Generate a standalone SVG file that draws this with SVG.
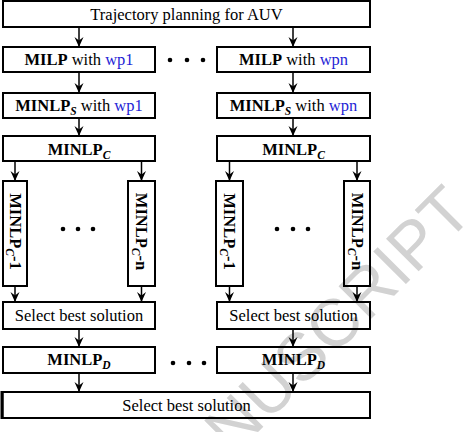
<svg xmlns="http://www.w3.org/2000/svg" width="474" height="432" viewBox="0 0 474 432">
<style>
.box{fill:none;stroke:#000;stroke-width:2}
.t{font-family:"Liberation Serif","Times New Roman",serif;font-size:16.5px;fill:#000;text-anchor:middle}
.b{font-weight:bold}
.sub{font-weight:bold;font-style:italic;font-size:11.5px}
.blue{fill:#1f1fd6}
.conn line{stroke:#000;stroke-width:1.5;marker-end:url(#ah)}
.dot{fill:#000}
.wm{font-family:"Liberation Sans",Arial,sans-serif;font-size:67px;fill:#d2d2d2}
</style>
<defs>
<marker id="ah" markerUnits="userSpaceOnUse" markerWidth="12" markerHeight="12" viewBox="-11 -6 12 12" refX="0" refY="0" orient="auto">
<path d="M0,0 L-10,-4.5 L-6.5,0 L-10,4.5 Z" fill="#000"/>
</marker>
</defs>
<rect width="474" height="432" fill="#fff"/>
<g id="watermark" transform="translate(162,528) rotate(-45)">
<text class="wm" x="0" y="0">MANUSCRIPT</text>
</g>
<g id="conn" class="conn">
<line x1="79" y1="27" x2="79" y2="47"/>
<line x1="293" y1="27" x2="293" y2="47"/>
<line x1="79" y1="72" x2="79" y2="93"/>
<line x1="293" y1="72" x2="293" y2="93"/>
<line x1="79" y1="118" x2="79" y2="136"/>
<line x1="293" y1="118" x2="293" y2="136"/>
<line x1="15" y1="161" x2="15" y2="181"/>
<line x1="141.5" y1="161" x2="141.5" y2="181"/>
<line x1="229.5" y1="161" x2="229.5" y2="181"/>
<line x1="357" y1="161" x2="357" y2="181"/>
<line x1="15" y1="286" x2="15" y2="302"/>
<line x1="141.5" y1="286" x2="141.5" y2="302"/>
<line x1="229.5" y1="286" x2="229.5" y2="302"/>
<line x1="357" y1="286" x2="357" y2="302"/>
<line x1="79" y1="329" x2="79" y2="347"/>
<line x1="293" y1="329" x2="293" y2="347"/>
<line x1="79" y1="373" x2="79" y2="392"/>
<line x1="293" y1="373" x2="293" y2="392"/>
</g>
<g id="n_top">
<rect class="box" x="3" y="1" width="367" height="26"/>
<text class="t" x="186.5" y="19.5">Trajectory planning for AUV</text>
</g>
<g id="n_milp1">
<rect class="box" x="3" y="47" width="152" height="25"/>
<text class="t" x="79" y="64.5"><tspan class="b">MILP</tspan> with <tspan class="blue">wp1</tspan></text>
</g>
<g id="n_milpn">
<rect class="box" x="217" y="47" width="153" height="25"/>
<text class="t" x="293.5" y="64.5"><tspan class="b">MILP</tspan> with <tspan class="blue">wpn</tspan></text>
</g>
<g id="n_minlps1">
<rect class="box" x="3" y="93" width="152" height="25"/>
<text class="t" x="79" y="111"><tspan class="b">MINLP</tspan><tspan class="sub" dy="4">S</tspan><tspan dy="-4"> with </tspan><tspan class="blue">wp1</tspan></text>
</g>
<g id="n_minlpsn">
<rect class="box" x="217" y="93" width="153" height="25"/>
<text class="t" x="293.5" y="111"><tspan class="b">MINLP</tspan><tspan class="sub" dy="4">S</tspan><tspan dy="-4"> with </tspan><tspan class="blue">wpn</tspan></text>
</g>
<g id="n_minlpc1">
<rect class="box" x="3" y="136" width="152" height="25"/>
<text class="t" x="79" y="155"><tspan class="b">MINLP</tspan><tspan class="sub" dy="4">C</tspan></text>
</g>
<g id="n_minlpcn">
<rect class="box" x="217" y="136" width="153" height="25"/>
<text class="t" x="293.5" y="155"><tspan class="b">MINLP</tspan><tspan class="sub" dy="4">C</tspan></text>
</g>
<g id="n_c1_1">
<rect class="box" x="3" y="181" width="24" height="105"/>
<text class="t" transform="translate(15,231.5) rotate(90)" x="0" y="5.5"><tspan class="b">MINLP</tspan><tspan class="sub" dy="4">C</tspan><tspan class="b" dy="-4">-1</tspan></text>
</g>
<g id="n_c1_n">
<rect class="box" x="128" y="181" width="27" height="105"/>
<text class="t" transform="translate(141.5,231.5) rotate(90)" x="0" y="5.5"><tspan class="b">MINLP</tspan><tspan class="sub" dy="4">C</tspan><tspan class="b" dy="-4">-n</tspan></text>
</g>
<g id="n_cn_1">
<rect class="box" x="216" y="181" width="27" height="105"/>
<text class="t" transform="translate(229.5,231.5) rotate(90)" x="0" y="5.5"><tspan class="b">MINLP</tspan><tspan class="sub" dy="4">C</tspan><tspan class="b" dy="-4">-1</tspan></text>
</g>
<g id="n_cn_n">
<rect class="box" x="344" y="181" width="26" height="105"/>
<text class="t" transform="translate(357,231.5) rotate(90)" x="0" y="5.5"><tspan class="b">MINLP</tspan><tspan class="sub" dy="4">C</tspan><tspan class="b" dy="-4">-n</tspan></text>
</g>
<g id="n_sel1">
<rect class="box" x="3" y="302" width="152" height="27"/>
<text class="t" x="79" y="320.5">Select best solution</text>
</g>
<g id="n_seln">
<rect class="box" x="217" y="302" width="153" height="27"/>
<text class="t" x="293.5" y="320.5">Select best solution</text>
</g>
<g id="n_minlpd1">
<rect class="box" x="3" y="347" width="152" height="26"/>
<text class="t" x="79" y="365"><tspan class="b">MINLP</tspan><tspan class="sub" dy="4">D</tspan></text>
</g>
<g id="n_minlpdn">
<rect class="box" x="217" y="347" width="153" height="26"/>
<text class="t" x="293.5" y="365"><tspan class="b">MINLP</tspan><tspan class="sub" dy="4">D</tspan></text>
</g>
<g id="n_final">
<rect class="box" x="2.5" y="392" width="367.5" height="26"/>
<line x1="2" y1="391" x2="2" y2="419" stroke="#000" stroke-width="3"/>
<text class="t" x="186.5" y="410.5">Select best solution</text>
</g>
<g id="dots">
<circle class="dot" cx="170" cy="60" r="2.3"/><circle class="dot" cx="187" cy="60" r="2.3"/><circle class="dot" cx="203" cy="60" r="2.3"/>
<circle class="dot" cx="63" cy="229" r="2.3"/><circle class="dot" cx="78" cy="229" r="2.3"/><circle class="dot" cx="93" cy="229" r="2.3"/>
<circle class="dot" cx="277" cy="229" r="2.3"/><circle class="dot" cx="293" cy="229" r="2.3"/><circle class="dot" cx="308" cy="229" r="2.3"/>
<circle class="dot" cx="173" cy="363" r="2.3"/><circle class="dot" cx="189" cy="363" r="2.3"/><circle class="dot" cx="204" cy="363" r="2.3"/>
</g>
</svg>
